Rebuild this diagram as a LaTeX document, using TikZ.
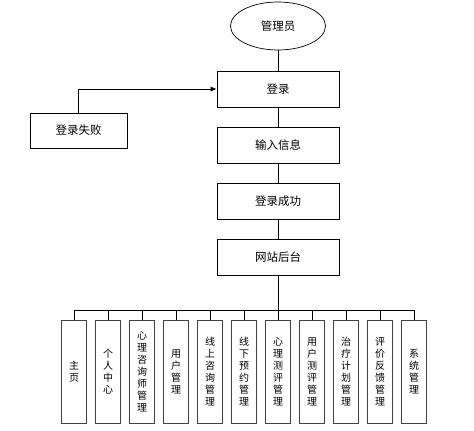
\documentclass[tikz,border=0pt]{standalone}
\usepackage{fontspec}
\newfontfamily\cjk{Noto Sans CJK SC}
\usetikzlibrary{shapes,arrows,arrows.meta,positioning}
\tikzstyle{block} = [draw=black, rectangle, minimum height=36pt, minimum width=122pt, font=\cjk\fontsize{11.5}{13}\selectfont]
\tikzstyle{leaf} = [draw=black!75, rectangle, minimum height=103pt, minimum width=25pt, inner sep=0pt, align=center, font=\cjk\fontsize{10}{12}\selectfont]
\tikzstyle{actor} = [draw=black, ellipse, minimum width=95pt, minimum height=48pt, font=\cjk\fontsize{11.5}{13}\selectfont]
\tikzstyle{hub} = [coordinate]

\begin{document}
\begin{tikzpicture}[x=1pt, y=-1pt, node distance=56pt, >={Latex[length=6pt,width=5pt]}, line width=0.7pt]
	\useasboundingbox (0,0) rectangle (474,431);

	% MAIN FLOW
	\node[actor] (admin) at (278,26) {管理员};
	\node[block] (login) at (278,89) {登录};
	\node[block, below of=login] (input) {输入信息};
	\node[block, below of=input] (success) {登录成功};
	\node[block, below of=success] (site) {网站后台};
	\node[block, minimum width=97pt, minimum height=35pt] (fail) at (78.5,130.5) {登录失败};

	\draw (admin) -- (login);
	\draw (login) -- (input);
	\draw (input) -- (success);
	\draw (success) -- (site);
	\draw [->] (fail.north) |- (login.west);

	% MODULES
	\node[hub] (bus) at (278,310) {};
	\draw (site) -- (bus);
	\foreach \i/\txt in {0/{主\\页}, 1/{个\\人\\中\\心}, 2/{心\\理\\咨\\询\\师\\管\\理},
		3/{用\\户\\管\\理}, 4/{线\\上\\咨\\询\\管\\理}, 5/{线\\下\\预\\约\\管\\理},
		6/{心\\理\\测\\评\\管\\理}, 7/{用\\户\\测\\评\\管\\理}, 8/{治\\疗\\计\\划\\管\\理},
		9/{评\\价\\反\\馈\\管\\理}, 10/{系\\统\\管\\理}} {
		\node[leaf] (m\i) at (74+34*\i,371.5) {\txt};
		\draw (bus) -| (m\i.north);
	}
\end{tikzpicture}
\end{document}
